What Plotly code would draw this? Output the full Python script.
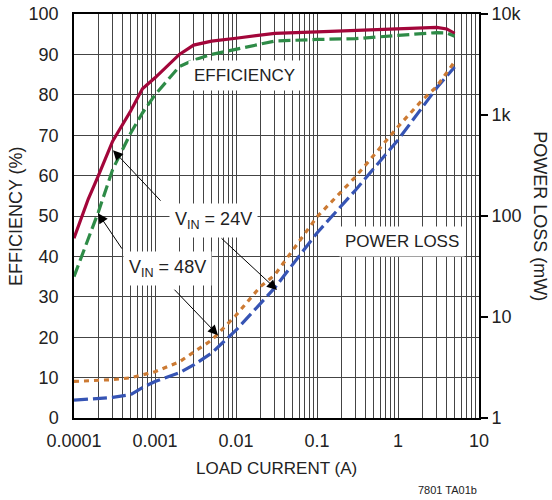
import plotly.graph_objects as go

# ---------------- data ----------------
eff_current = [0.0001, 0.00015, 0.0002, 0.0003, 0.0005, 0.0007, 0.001, 0.002, 0.003,
               0.005, 0.01, 0.03, 0.1, 0.3, 1, 3, 4, 5]
eff_24v = [44.5, 54.2, 60, 68.5, 76, 81.5, 84.2, 90, 92.3, 93.3, 94, 95.2, 95.6, 96, 96.4, 96.7, 96.3, 95.2]
eff_48v = [35, 44.5, 51, 61.5, 70.5, 75.5, 80, 87, 88.6, 90, 91.3, 93.3, 93.7, 93.9, 94.7, 95.4, 95.3, 94.5]

loss_current = [0.0001, 0.0003, 0.0005, 0.0007, 0.001, 0.002, 0.003, 0.005, 0.01,
                0.02, 0.03, 0.1, 0.3, 1, 2, 3, 5]
loss_24v = [1.5, 1.6, 1.7, 2.0, 2.3, 2.8, 3.35, 4.4, 7.4, 13.8, 19.4, 68, 181, 566, 1200, 1850, 2990]
loss_48v = [2.3, 2.4, 2.5, 2.65, 2.87, 3.6, 4.5, 5.9, 10.4, 20, 26, 98, 245, 765, 1410, 1910, 3370]

x_major = [0.0001, 0.001, 0.01, 0.1, 1, 10]
x_major_text = ["0.0001", "0.001", "0.01", "0.1", "1", "10"]
y_ticks = [0, 10, 20, 30, 40, 50, 60, 70, 80, 90, 100]
y2_ticks = [1, 10, 100, 1000, 10000]
y2_text = ["1", "10", "100", "1k", "10k"]

# grid positions at every 1..9 of each decade
x_grid = []
x_grid_text = []
for i, d in enumerate(x_major[:-1]):
    for m in range(1, 10):
        x_grid.append(round(d * m, 10))
        x_grid_text.append(x_major_text[i] if m == 1 else "")
x_grid.append(x_major[-1])
x_grid_text.append(x_major_text[-1])

FONT = "Liberation Sans, Arial, sans-serif"
GRID = "#444444"

RED = "#a3063a"
GREEN = "#2e8b47"
BLUE = "#3654b4"
ORANGE = "#cc7a33"

fig = go.Figure()
fig.add_trace(go.Scatter(x=eff_current, y=eff_24v, mode="lines",
                         line=dict(color=RED, width=3.2), yaxis="y"))
fig.add_trace(go.Scatter(x=eff_current, y=eff_48v, mode="lines",
                         line=dict(color=GREEN, width=3.2, dash="12px,5px"), yaxis="y"))
fig.add_trace(go.Scatter(x=loss_current, y=loss_24v, mode="lines",
                         line=dict(color=BLUE, width=3.2, dash="14px,5px"), yaxis="y2"))
fig.add_trace(go.Scatter(x=loss_current, y=loss_48v, mode="lines",
                         line=dict(color=ORANGE, width=3.2, dash="5px,5px"), yaxis="y2"))

fig.update_layout(
    width=552, height=500,
    margin=dict(l=74, r=73, t=14, b=82, autoexpand=False),
    paper_bgcolor="white", plot_bgcolor="white",
    showlegend=False,
    font=dict(family=FONT, size=18, color="#222"),
    xaxis=dict(type="log", range=[-4, 1], tickvals=x_grid, ticktext=x_grid_text,
               showgrid=True, gridcolor=GRID, gridwidth=1,
               ticks="outside", ticklen=6, tickcolor="rgba(0,0,0,0)",
               showline=True, linecolor="black", linewidth=1.5, mirror=True,
               zeroline=False, tickfont=dict(size=18), automargin=False),
    yaxis=dict(range=[0, 100], tickvals=y_ticks, showgrid=True, gridcolor=GRID, gridwidth=1,
               ticks="outside", ticklen=10, tickcolor="rgba(0,0,0,0)",
               showline=True, linecolor="black", linewidth=1.5, mirror=True,
               zeroline=False, tickfont=dict(size=18), automargin=False),
    yaxis2=dict(type="log", range=[0, 4], overlaying="y", side="right",
                tickvals=y2_ticks, ticktext=y2_text, showgrid=False,
                ticks="outside", ticklen=8, tickcolor="black", tickwidth=1.5,
                zeroline=False, tickfont=dict(size=18), automargin=False),
)

ann = []
# axis titles
ann.append(dict(text="EFFICIENCY (%)", xref="paper", yref="paper", x=-0.143, y=0.50,
                xanchor="center", yanchor="middle", textangle=-90, showarrow=False,
                font=dict(size=18)))
ann.append(dict(text="POWER LOSS (mW)", xref="paper", yref="paper", x=1.15, y=0.50,
                xanchor="center", yanchor="middle", textangle=90, showarrow=False,
                font=dict(size=18)))
ann.append(dict(text="LOAD CURRENT (A)", xref="paper", yref="paper", x=0.5, y=-0.124,
                xanchor="center", yanchor="middle", showarrow=False, font=dict(size=17)))
ann.append(dict(text="7801 TA01b", xref="paper", yref="paper", x=1.0, y=-0.178,
                xanchor="right", yanchor="middle", showarrow=False, font=dict(size=11)))

# labels in plot
ann.append(dict(text="EFFICIENCY", x=-1.89, y=84.7, xref="x", yref="y", showarrow=False,
                bgcolor="white", borderpad=5, font=dict(size=17)))
ann.append(dict(text="POWER LOSS", x=0.05, y=43.8, xref="x", yref="y", showarrow=False,
                bgcolor="white", borderpad=5, font=dict(size=17)))
ann.append(dict(text="V<sub>IN</sub> = 24V", x=-2.284, y=48.8, xref="x", yref="y",
                showarrow=False, bgcolor="white", borderpad=5, font=dict(size=18)))
ann.append(dict(text="V<sub>IN</sub> = 48V", x=-2.84, y=37.1, xref="x", yref="y",
                showarrow=False, bgcolor="white", borderpad=5, font=dict(size=18)))

# arrows (tip at curve, tail offset in px)
arrows = [
    (-3.519, 66.3, 49, 52),
    (-1.494, 31.7, -57, -53),
    (-3.704, 50.7, 25, 37),
    (-2.222, 20.5, -45, -47),
]
for ax_log, yv, dx, dy in arrows:
    ann.append(dict(text="", x=ax_log, y=yv, xref="x", yref="y", ax=dx, ay=dy,
                    showarrow=True, arrowhead=2, arrowsize=2, arrowwidth=1,
                    arrowcolor="black", standoff=0))

fig.update_layout(annotations=ann)
fig.write_html("out.html", config={"displayModeBar": False},
               post_script="document.body.style.margin='0';document.body.style.overflow='hidden';")
